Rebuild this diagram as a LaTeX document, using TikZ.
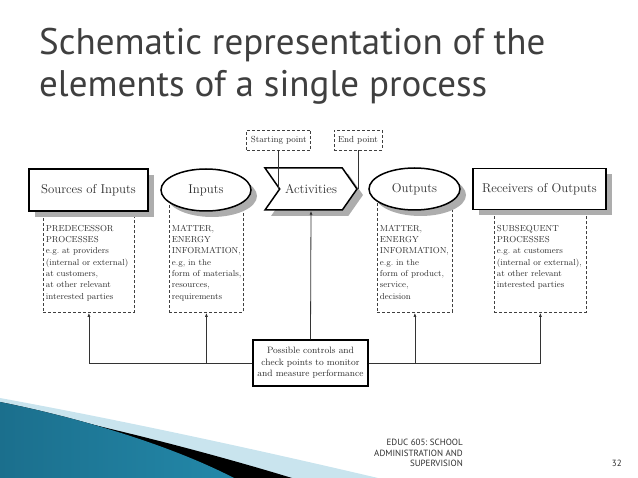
\documentclass[tikz,border=0pt]{standalone}
\usepackage{fontspec}
\newfontfamily\slidefont{PT Sans}
\usetikzlibrary{shapes.geometric,shapes.symbols,shadows,arrows.meta}
\definecolor{titlegray}{HTML}{3F3F3F}
\definecolor{inkgray}{HTML}{2E2E2E}
\definecolor{swooshlight}{HTML}{C9E4EE}
\definecolor{tealdark}{HTML}{1B6F8D}
\definecolor{teallight}{HTML}{52B6D5}
\definecolor{tealmid}{HTML}{2388A9}
\frenchspacing

\begin{document}
\begin{tikzpicture}[x=1pt,y=-1pt,
  >={Latex[length=4pt,width=3pt]},
  head/.style={draw,line width=1.5pt,fill=white,text=inkgray,inner sep=0pt,
    font=\fontsize{12.8}{14}\selectfont,
    drop shadow={shadow xshift=6pt,shadow yshift=-6pt,fill=black!32,opacity=1}},
  memo/.style={draw=black!75,dash pattern=on 3pt off 2pt,line width=0.8pt,
    anchor=north west,align=left,inner xsep=2.5pt,inner ysep=0pt,text=inkgray,
    font=\fontsize{8.7}{11.3}\selectfont,
    execute at begin node={\hyphenpenalty=10000\exhyphenpenalty=10000}},
  ptbox/.style={draw=black!75,dash pattern=on 3pt off 2pt,line width=0.8pt,
    inner sep=0pt,minimum height=20pt,text=inkgray,font=\fontsize{8.8}{10}\selectfont},
  link/.style={draw=black!80,line width=0.8pt}]
\useasboundingbox (0,0) rectangle (638,478);

% title
\node[anchor=base west,inner sep=0pt,text=titlegray,font=\slidefont\fontsize{37}{44}\selectfont]
  (titlea) at (39,55) {Schematic representation of the};
\node[anchor=base west,inner sep=0pt,text=titlegray,font=\slidefont\fontsize{37}{44}\selectfont]
  (titleb) at (39,97) {elements of a single process};

% dashed boxes under the heads
\node[memo,text width=86pt,text height=20pt,text depth=81pt] (srcd) at (43,211)
  {PREDECESSOR\\PROCESSES\\e.g. at providers\\(internal~or~external)\\at customers,\\at other relevant\\interested parties};
\node[memo,text width=69pt,text height=31pt,text depth=81pt] (inpd) at (169,200)
  {MATTER,\\ENERGY\\INFORMATION,\\e.g, in the\\form~of~materials,\\resources,\\requirements};
\node[memo,text width=70pt,text height=31pt,text depth=81pt] (outd) at (377,200)
  {MATTER,\\ENERGY\\INFORMATION,\\e.g. in the\\form~of~product,\\service,\\decision};
\node[memo,text width=87pt,text height=20pt,text depth=81pt] (rcvd) at (494,211)
  {SUBSEQUENT\\PROCESSES\\e.g. at customers\\(internal~or~external),\\at other relevant\\interested parties};

% heads
\node[head,rectangle,minimum width=119pt,minimum height=42pt] (src) at (88.5,190) {Sources of Inputs};
\node[head,ellipse,minimum width=90pt,minimum height=42pt] (inp) at (206,190) {Inputs};
\node[head,signal,signal to=east,signal from=west,signal pointer angle=110,
  minimum width=92pt,minimum height=42pt] (act) at (311,189) {Activities};
\node[head,ellipse,minimum width=91pt,minimum height=42pt] (outp) at (414.5,189) {Outputs};
\node[head,rectangle,minimum width=133pt,minimum height=41pt] (rcv) at (539.5,189) {Receivers of Outputs};

\node[ptbox,minimum width=64pt] (start) at (act.west |- 0,140) {Starting point};
\node[ptbox,minimum width=48pt] (endp) at (act.east |- 0,140) {End point};

\node[draw,line width=1.2pt,fill=white,inner sep=0pt,minimum width=115pt,minimum height=46pt,
  align=center,text=inkgray,font=\fontsize{9.2}{11.5}\selectfont] (ctrl) at (310.5,363)
  {Possible controls and\\check points to monitor\\and measure performance};

% connectors
\draw[link] (start) -- (act.west);
\draw[link] (endp) -- (act.east);
\draw[link,->] (ctrl.north) -- (act.south);
\draw[link,->] (ctrl.west) -| (srcd.south);
\draw[link,->] (ctrl.west) -| (inpd.south);
\draw[link,->] (ctrl.east) -| (outd.south);
\draw[link,->] (ctrl.east) -| (rcvd.south);

% footer swoosh
\fill[swooshlight] (0,398) .. controls (120,420) and (250,448) .. (378,478) -- (0,478) -- cycle;
\fill[black] (0,404) .. controls (100,425) and (200,450) .. (292,478) -- (0,478) -- cycle;
\fill[left color=tealdark,middle color=teallight,right color=tealmid]
  (0,402) .. controls (80,418) and (170,445) .. (234,478) -- (0,478) -- cycle;

\node[anchor=base east,inner sep=0pt,text=inkgray,font=\slidefont\fontsize{9}{10.5}\selectfont]
  (course) at (463,446) {EDUC 605: SCHOOL};
\node[anchor=base east,inner sep=0pt,text=inkgray,font=\slidefont\fontsize{9}{10.5}\selectfont]
  (courseb) at (463,456.5) {ADMINISTRATION AND};
\node[anchor=base east,inner sep=0pt,text=inkgray,font=\slidefont\fontsize{9}{10.5}\selectfont]
  (coursec) at (463,467) {SUPERVISION};
\node[anchor=base east,inner sep=0pt,text=inkgray,font=\slidefont\fontsize{9}{10.5}\selectfont]
  (page) at (622,467) {32};
\end{tikzpicture}
\end{document}
